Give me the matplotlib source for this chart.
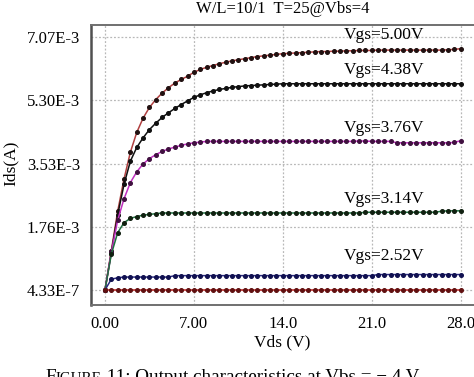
import numpy as np
import matplotlib
matplotlib.use("Agg")
import matplotlib.pyplot as plt

plt.rcParams['font.family'] = ['Liberation Serif', 'DejaVu Serif']

# sweep of Vds (V), 0.5 V steps
vds = [0.0, 0.5, 1.0, 1.5, 2.0, 2.5, 3.0, 3.5, 4.0, 4.5, 5.0, 5.5, 6.0, 6.5, 7.0,
       7.5, 8.0, 8.5, 9.0, 9.5, 10.0, 10.5, 11.0, 11.5, 12.0, 12.5, 13.0, 13.5,
       14.0, 14.5, 15.0, 15.5, 16.0, 16.5, 17.0, 17.5, 18.0, 18.5, 19.0, 19.5,
       20.0, 20.5, 21.0, 21.5, 22.0, 22.5, 23.0, 23.5, 24.0, 24.5, 25.0, 25.5,
       26.0, 26.5, 27.0, 27.5, 28.0]

# Ids in mA
ids_500 = [0.0, 1.10, 2.20, 3.10, 3.85, 4.40, 4.80, 5.10, 5.32, 5.50, 5.65, 5.78, 5.88, 5.97, 6.08,
           6.16, 6.22, 6.27, 6.32, 6.36, 6.40, 6.43, 6.46, 6.49, 6.52, 6.54, 6.56, 6.58,
           6.60, 6.61, 6.62, 6.63, 6.64, 6.65, 6.66, 6.66, 6.67, 6.67, 6.68, 6.68,
           6.69, 6.69, 6.69, 6.70, 6.70, 6.70, 6.70, 6.70, 6.70, 6.70, 6.70, 6.70,
           6.70, 6.70, 6.71, 6.72, 6.74]
ids_438 = [0.0, 1.05, 2.10, 2.95, 3.60, 3.98, 4.25, 4.48, 4.66, 4.82, 4.95, 5.07, 5.18, 5.28, 5.38,
           5.45, 5.51, 5.56, 5.60, 5.63, 5.66, 5.68, 5.70, 5.71, 5.72, 5.73, 5.74, 5.75,
           5.76, 5.76, 5.76, 5.76, 5.76, 5.76, 5.76, 5.76, 5.76, 5.76, 5.76, 5.76,
           5.76, 5.76, 5.76, 5.76, 5.76, 5.76, 5.76, 5.76, 5.76, 5.76, 5.76, 5.76,
           5.76, 5.76, 5.76, 5.76, 5.76]
ids_376 = [0.0, 1.05, 1.95, 2.55, 3.00, 3.30, 3.52, 3.67, 3.78, 3.87, 3.94, 3.99, 4.04, 4.08, 4.11,
           4.13, 4.15, 4.15, 4.15, 4.15, 4.15, 4.15, 4.15, 4.15, 4.15, 4.15, 4.15, 4.15,
           4.15, 4.15, 4.15, 4.15, 4.15, 4.15, 4.15, 4.15, 4.15, 4.15, 4.15, 4.15,
           4.16, 4.16, 4.15, 4.15, 4.15, 4.15, 4.11, 4.11, 4.11, 4.11, 4.11, 4.11,
           4.11, 4.11, 4.11, 4.12, 4.17]
ids_314 = [0.0, 1.00, 1.60, 1.88, 2.00, 2.05, 2.09, 2.11, 2.13, 2.15, 2.15, 2.15, 2.15, 2.15, 2.15,
           2.15, 2.15, 2.15, 2.15, 2.15, 2.15, 2.15, 2.15, 2.15, 2.15, 2.15, 2.15, 2.15,
           2.15, 2.15, 2.15, 2.15, 2.15, 2.15, 2.15, 2.15, 2.15, 2.15, 2.15, 2.15,
           2.15, 2.17, 2.17, 2.17, 2.17, 2.17, 2.17, 2.17, 2.17, 2.17, 2.17, 2.17,
           2.17, 2.20, 2.21, 2.21, 2.21]
ids_252 = [0.0, 0.30, 0.34, 0.36, 0.36, 0.36, 0.36, 0.36, 0.36, 0.36, 0.36, 0.40, 0.40, 0.40, 0.40,
           0.40, 0.40, 0.40, 0.40, 0.40, 0.40, 0.40, 0.40, 0.40, 0.40, 0.40, 0.40, 0.40,
           0.40, 0.40, 0.40, 0.40, 0.40, 0.40, 0.40, 0.40, 0.40, 0.40, 0.40, 0.40,
           0.40, 0.40, 0.40, 0.43, 0.43, 0.43, 0.43, 0.43, 0.43, 0.43, 0.43, 0.43,
           0.43, 0.43, 0.43, 0.43, 0.43]
ids_low = [0.000433] * len(vds)

curves = [
    (ids_500, '#b04040', '#201010'),
    (ids_438, '#101010', '#101010'),
    (ids_376, '#c030c0', '#401040'),
    (ids_314, '#207040', '#102010'),
    (ids_252, '#2a2a80', '#101050'),
    (ids_low, '#c02020', '#601010'),
]
labels = ['Vgs=5.00V', 'Vgs=4.38V', 'Vgs=3.76V', 'Vgs=3.14V', 'Vgs=2.52V']
label_y = [7.13, 6.15, 4.52, 2.55, 0.95]

yticks = [4.33e-7, 1.76e-3, 3.53e-3, 5.30e-3, 7.07e-3]
ytick_labels = ['4.33E-7', '1.76E-3', '3.53E-3', '5.30E-3', '7.07E-3']
xticks = [0, 7, 14, 21, 28]
xtick_labels = ['0.00', '7.00', '14.0', '21.0', '28.0']

fig = plt.figure(figsize=(4.74, 3.77), dpi=100)
ax = fig.add_axes([0.192, 0.191, 0.812, 0.743])

vds_arr = np.array(vds)
for vals, lc, mc in curves:
    ax.plot(vds_arr, np.array(vals) * 1e-3, color=lc, lw=1.1, marker='o',
            markersize=2.6, markerfacecolor=mc, markeredgecolor=mc, zorder=3)

for lab, yy in zip(labels, label_y):
    ax.text(22.0, yy * 1e-3, lab, ha='center', va='center', fontsize=12.5, zorder=4)

ax.set_xlim(-1.1, 29.2)
ax.set_ylim(-0.42e-3, 7.405e-3)
ax.set_xticks(xticks)
ax.set_xticklabels(xtick_labels)
ax.set_yticks(yticks)
ax.set_yticklabels(ytick_labels)
ax.tick_params(length=0, labelsize=12, pad=8)
ax.grid(True, color='#b8b8b8', linestyle=(0, (1.5, 1.5)), lw=0.9)
for s in ax.spines.values():
    s.set_color('#707070')
    s.set_linewidth(1.4)
ax.spines['left'].set_color('#505050')
ax.spines['left'].set_linewidth(1.8)

fig.text(0.597, 0.975, 'W/L=10/1  T=25@Vbs=4', ha='center', va='center', fontsize=12)
fig.text(0.595, 0.093, 'Vds (V)', ha='center', va='center', fontsize=12.5)
fig.text(0.022, 0.567, 'Ids(A)', ha='center', va='center', rotation=90, fontsize=12.5)

# caption in small caps, partly cut at the bottom edge as in the source
fig.canvas.draw()
r = fig.canvas.get_renderer()
cap_y = -0.012
x0 = 0.095
pieces = [('F', 13.8), ('IGURE', 10.8), (' 11: Output characteristics at Vbs = \u2212 4 V', 13.8)]
for txt, fs in pieces:
    t = fig.text(x0, cap_y, txt, ha='left', va='baseline', fontsize=fs)
    bb = t.get_window_extent(renderer=r)
    x0 += bb.width / fig.bbox.width

fig.savefig('out.png', dpi=100)
